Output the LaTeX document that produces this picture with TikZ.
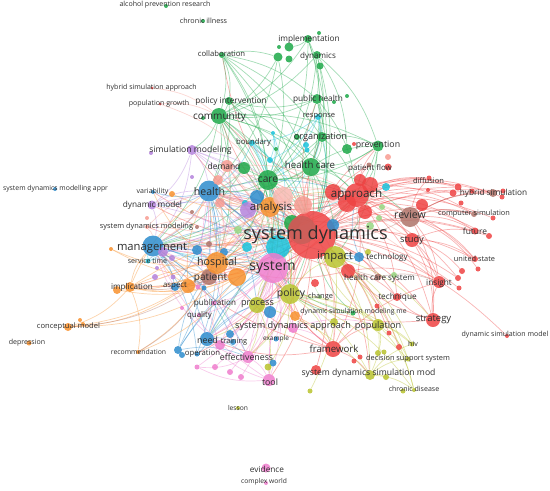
\documentclass[tikz,border=0pt]{standalone}
\usepackage{fontspec}
\setmainfont{Open Sans}
\usetikzlibrary{backgrounds}
\definecolor{vred}{RGB}{238,66,66}
\definecolor{vgreen}{RGB}{28,168,72}
\definecolor{vblue}{RGB}{45,140,205}
\definecolor{volive}{RGB}{185,195,45}
\definecolor{vpurple}{RGB}{180,130,220}
\definecolor{vcyan}{RGB}{25,195,220}
\definecolor{vorange}{RGB}{248,145,45}
\definecolor{vbrown}{RGB}{175,115,105}
\definecolor{vpink}{RGB}{238,125,205}
\definecolor{vsalmon}{RGB}{247,155,145}
\definecolor{vlgreen}{RGB}{150,215,130}
\definecolor{lbltext}{RGB}{45,45,45}
\tikzset{
	kw/.style={
		circle,
		draw=none,
		inner sep=0pt,
		fill opacity=.85,
		minimum size=#1*0.02cm
	},
	lbl/.style={
		inner sep=0pt,
		text=lbltext,
		font=\fontsize{#1}{#1}\selectfont
	},
	link/.style={
		every edge/.style={
			draw=#1,
			draw opacity=.4,
			line width=.4pt,
			bend left=15
		}
	},
}

\begin{document}
\begin{tikzpicture}[x=0.02cm,y=-0.02cm]
\useasboundingbox (0,0) rectangle (550,490);

% keywords, green cluster
\node[kw=4, fill=vgreen] (apr) at (166,6) {};
\node[kw=4, fill=vgreen] (chi) at (203,21) {};
\node[kw=6, fill=vgreen] (col) at (222,55) {};
\node[kw=8, fill=vgreen] (imp) at (308,39) {};
\node[kw=8, fill=vgreen] (dyn) at (317,55) {};
\node[kw=4, fill=vgreen] (g1) at (319,33) {};
\node[kw=9, fill=vgreen] (g2) at (289,47) {};
\node[kw=4, fill=vgreen] (g3) at (279,47) {};
\node[kw=9, fill=vgreen] (g4) at (278,57) {};
\node[kw=7, fill=vgreen] (g5) at (289,59) {};
\node[kw=7, fill=vgreen] (g6) at (320,66) {};
\node[kw=10, fill=vgreen] (pub) at (317,99) {};
\node[kw=4, fill=vgreen] (g7) at (334,102) {};
\node[kw=4, fill=vgreen] (g8) at (347,96) {};
\node[kw=8, fill=vgreen] (pin) at (229,101) {};
\node[kw=16, fill=vgreen] (com) at (219,116) {};
\node[kw=4, fill=vgreen] (g9) at (203,118) {};
\node[kw=10, fill=vgreen] (org) at (322,137) {};
\node[kw=6, fill=vgreen] (g10) at (297,137) {};
\node[kw=10, fill=vgreen] (g11) at (347,149) {};
\node[kw=11, fill=vgreen] (pre) at (378,146) {};
\node[kw=4, fill=vgreen] (g12) at (276,149) {};
\node[kw=12, fill=vgreen] (g13) at (244,168) {};
\node[kw=20, fill=vgreen] (car) at (268,180) {};
\node[kw=18, fill=vgreen] (hc) at (311,167) {};
\node[kw=16, fill=vgreen] (g14) at (292,223) {};
\node[kw=5, fill=vgreen] (dsmm) at (353,313) {};

% red cluster
\node[kw=48, fill=vred] (sd) at (312,235) {};
\node[kw=28, fill=vbrown!60!vred] (r30) at (302,230) {};
\node[kw=3, fill=vred] (hsa) at (152,88) {};
\node[kw=3, fill=vred] (pgr) at (160,104) {};
\node[kw=24, fill=vred] (ap) at (357,195) {};
\node[kw=14, fill=vred] (stu) at (412,240) {};
\node[kw=5, fill=vred] (dif) at (429,178) {};
\node[kw=7, fill=vred] (fut) at (475,231) {};
\node[kw=6, fill=vred] (ust) at (475,259) {};
\node[kw=12, fill=vred] (ins) at (439,282) {};
\node[kw=8, fill=vred] (tcq) at (397,297) {};
\node[kw=14, fill=vred] (str) at (433,320) {};
\node[kw=4, fill=vred] (dsm) at (507,336) {};
\node[kw=16, fill=vred] (fw) at (333,349) {};
\node[kw=16, fill=vred] (r1) at (333,192) {};
\node[kw=18, fill=vred] (r2) at (347,203) {};
\node[kw=16, fill=vred] (r3) at (370,185) {};
\node[kw=14, fill=vred] (r4) at (365,212) {};
\node[kw=12, fill=vred] (r5) at (360,180) {};
\node[kw=4, fill=vred] (r6) at (354,144) {};
\node[kw=7, fill=vred] (r7) at (388,167) {};
\node[kw=4, fill=vred] (r8) at (428,190) {};
\node[kw=7, fill=vred] (r9) at (458,187) {};
\node[kw=7, fill=vred] (r10) at (453,193) {};
\node[kw=5, fill=vred] (r11) at (461,203) {};
\node[kw=5, fill=vred] (r12) at (503,191) {};
\node[kw=5, fill=vred] (r13) at (502,197) {};
\node[kw=12, fill=vred] (r14) at (422,205) {};
\node[kw=5, fill=vred] (r15) at (493,218) {};
\node[kw=6, fill=vred] (r16) at (489,236) {};
\node[kw=5, fill=vred] (r17) at (478,269) {};
\node[kw=6, fill=vred] (r18) at (462,271) {};
\node[kw=6, fill=vred] (r19) at (458,278) {};
\node[kw=5, fill=vred] (r20) at (459,288) {};
\node[kw=14, fill=vred] (r21) at (348,271) {};
\node[kw=8, fill=vred] (r22) at (315,283) {};
\node[kw=5, fill=vred] (r23) at (377,306) {};
\node[kw=5, fill=vred] (r24) at (389,333) {};
\node[kw=6, fill=vred] (r25) at (399,347) {};
\node[kw=5, fill=vred] (r26) at (360,357) {};
\node[kw=5, fill=vred] (r27) at (354,361) {};
\node[kw=10, fill=vred] (r28) at (316,370) {};
\node[kw=5, fill=vred] (r29) at (472,191) {};

% cyan cluster
\node[kw=6, fill=vcyan] (res) at (318,117) {};
\node[kw=6, fill=vcyan] (bnd) at (252,143) {};
\node[kw=6, fill=vcyan] (c1) at (306,145) {};
\node[kw=5, fill=vcyan] (c2) at (307,150) {};
\node[kw=4, fill=vcyan] (c3) at (273,133) {};
\node[kw=6, fill=vcyan] (c4) at (270,160) {};
\node[kw=6, fill=vcyan] (c5) at (245,203) {};
\node[kw=10, fill=vcyan] (c6) at (247,247) {};
\node[kw=24, fill=vcyan] (c7) at (278,247) {};
\node[kw=5, fill=vcyan] (svt) at (148,261) {};
\node[kw=8, fill=vcyan] (c8) at (386,187) {};

% blue cluster
\node[kw=21, fill=vblue] (hea) at (209,191) {};
\node[kw=4, fill=vblue] (var) at (153,192) {};
\node[kw=4, fill=vblue] (sdma) at (55,189) {};
\node[kw=21, fill=vblue] (mgt) at (153,246) {};
\node[kw=8, fill=vblue] (asp) at (175,287) {};
\node[kw=14, fill=vblue] (need) at (207,339) {};
\node[kw=6, fill=vblue] (trn) at (233,342) {};
\node[kw=5, fill=vblue] (ope) at (197,354) {};
\node[kw=5, fill=vblue] (exa) at (276,339) {};
\node[kw=10, fill=vblue] (tec) at (359,257) {};
\node[kw=14, fill=vblue] (b1) at (257,197) {};
\node[kw=12, fill=vblue] (b2) at (333,225) {};
\node[kw=10, fill=vblue] (b3) at (197,250) {};
\node[kw=8, fill=vblue] (b4) at (224,252) {};
\node[kw=12, fill=vblue] (b5) at (270,312) {};
\node[kw=5, fill=vblue] (b6) at (204,288) {};
\node[kw=8, fill=vblue] (b7) at (230,334) {};
\node[kw=8, fill=vblue] (b8) at (178,350) {};
\node[kw=6, fill=vblue] (b9) at (182,355) {};
\node[kw=7, fill=vblue] (b10) at (273,363) {};

% brown cluster
\node[kw=5, fill=vbrown] (pfl) at (369,165) {};
\node[kw=20, fill=vbrown] (rv) at (410,217) {};
\node[kw=8, fill=vbrown] (hys) at (493,193) {};
\node[kw=6, fill=vbrown] (cps) at (474,214) {};
\node[kw=7, fill=vbrown] (hcs) at (378,277) {};
\node[kw=16, fill=vbrown] (pat) at (209,277) {};
\node[kw=4, fill=vbrown] (n1) at (192,212) {};
\node[kw=4, fill=vbrown] (n2) at (197,227) {};
\node[kw=6, fill=vbrown] (n3) at (209,244) {};

% olive cluster
\node[kw=22, fill=volive] (ipc) at (335,257) {};
\node[kw=20, fill=volive] (pol) at (290,294) {};
\node[kw=16, fill=volive] (prc) at (257,305) {};
\node[kw=12, fill=volive] (pop) at (378,325) {};
\node[kw=5, fill=volive] (hiv) at (412,344) {};
\node[kw=5, fill=volive] (dss) at (408,359) {};
\node[kw=10, fill=volive] (sdsm) at (370,375) {};
\node[kw=4, fill=volive] (chd) at (414,390) {};
\node[kw=4, fill=volive] (les) at (238,408) {};
\node[kw=6, fill=volive] (o1) at (368,252) {};
\node[kw=8, fill=volive] (o2) at (334,322) {};
\node[kw=6, fill=volive] (o3) at (378,353) {};
\node[kw=5, fill=volive] (o4) at (384,352) {};
\node[kw=6, fill=volive] (o5) at (386,377) {};
\node[kw=7, fill=volive] (o6) at (268,367) {};
\node[kw=5, fill=volive] (o7) at (310,391) {};
\node[kw=5, fill=volive] (o8) at (403,391) {};

% purple cluster
\node[kw=10, fill=vpurple] (sim) at (192,150) {};
\node[kw=9, fill=vpurple] (dmo) at (152,205) {};
\node[kw=16, fill=vpurple] (p1) at (248,210) {};
\node[kw=4, fill=vpurple] (p2) at (151,153) {};
\node[kw=4, fill=vpurple] (p3) at (192,177) {};
\node[kw=10, fill=vpurple] (p4) at (163,252) {};
\node[kw=6, fill=vpurple] (p5) at (172,258) {};
\node[kw=4, fill=vpurple] (p6) at (157,268) {};
\node[kw=6, fill=vpurple] (p7) at (155,277) {};
\node[kw=5, fill=vpurple] (p8) at (173,277) {};

% orange cluster
\node[kw=20, fill=vorange] (ana) at (270,207) {};
\node[kw=22, fill=vorange] (hos) at (217,263) {};
\node[kw=10, fill=vorange] (imc) at (130,287) {};
\node[kw=8, fill=vorange] (cpm) at (68,327) {};
\node[kw=5, fill=vorange] (dep) at (29,343) {};
\node[kw=4, fill=vorange] (rec) at (138,352) {};
\node[kw=6, fill=vorange] (a1) at (172,194) {};
\node[kw=4, fill=vorange] (a2) at (111,249) {};
\node[kw=18, fill=vorange] (a3) at (237,277) {};
\node[kw=8, fill=vorange] (a4) at (117,290) {};
\node[kw=14, fill=vorange] (a5) at (188,286) {};
\node[kw=10, fill=vorange] (a6) at (295,316) {};
\node[kw=4, fill=vorange] (a7) at (80,320) {};
\node[kw=4, fill=vorange] (a8) at (83,324) {};

% pink cluster
\node[kw=30, fill=vpink] (sys) at (273,268) {};
\node[kw=10, fill=vpink] (sda) at (293,328) {};
\node[kw=5, fill=vpink] (pbl) at (214,303) {};
\node[kw=4, fill=vpink] (qua) at (199,315) {};
\node[kw=12, fill=vpink] (eff) at (248,357) {};
\node[kw=12, fill=vpink] (tool) at (269,380) {};
\node[kw=9, fill=vpink] (evi) at (266,468) {};
\node[kw=4, fill=vpink] (cxw) at (266,483) {};
\node[kw=4, fill=vpink] (k1) at (182,308) {};
\node[kw=5, fill=vpink] (k2) at (198,287) {};
\node[kw=10, fill=vpink] (k3) at (220,345) {};
\node[kw=5, fill=vpink] (k4) at (197,367) {};
\node[kw=6, fill=vpink] (k5) at (215,367) {};
\node[kw=6, fill=vpink] (k6) at (230,372) {};
\node[kw=6, fill=vpink] (k7) at (241,377) {};

% salmon and light green
\node[kw=12, fill=vsalmon] (dem) at (227,166) {};
\node[kw=4, fill=vsalmon] (sdm) at (147,227) {};
\node[kw=20, fill=vsalmon!70] (s1) at (283,197) {};
\node[kw=18, fill=vsalmon] (s2) at (303,205) {};
\node[kw=10, fill=vsalmon] (s3) at (218,180) {};
\node[kw=10, fill=vsalmon] (s4) at (220,203) {};
\node[kw=4, fill=vsalmon] (s5) at (147,218) {};
\node[kw=6, fill=vsalmon] (s6) at (388,157) {};
\node[kw=4, fill=vlgreen] (chg) at (320,297) {};
\node[kw=8, fill=vlgreen] (l1) at (238,230) {};
\node[kw=6, fill=vlgreen] (l2) at (382,207) {};
\node[kw=6, fill=vlgreen] (l3) at (379,218) {};
\node[kw=8, fill=vlgreen] (l4) at (370,226) {};
\node[kw=6, fill=vlgreen] (l5) at (394,275) {};

% links
\begin{scope}[on background layer]
\path[link=vred] (sd) edge (ap) edge (rv) edge (stu) edge (dif) edge (hys) edge (cps) edge (fut) edge (ust) edge (ins) edge (tcq) edge (str) edge (fw) edge (sdsm) edge (pop) edge (hcs) edge (pfl) edge (pre) edge (dsm) edge (r9) edge (r12) edge (r16) edge (r19) edge (r20) edge (r24) edge (r25) edge (r28);
\path[link=vred] (sd) edge (hea) edge (mgt) edge (hos) edge (car) edge (hc) edge (com) edge (dem) edge (sim) edge (dmo) edge (sdm) edge (imc) edge (need) edge (ope) edge (tool) edge (eff) edge (pol) edge (prc) edge (col) edge (pub) edge (org) edge (pat) edge (asp) edge (var);
\path[link=vred] (ap) edge (rv) edge (dif) edge (r9) edge (hys) edge (cps) edge (fut) edge (stu) edge (ins) edge (ust) edge (str) edge (pfl) edge (pre) edge (tcq) edge (fw) edge (hea) edge (mgt) edge (hos) edge (sys) edge (car) edge (ana) edge (com);
\path[link=vred] (rv) edge (hys) edge (cps) edge (fut) edge (ust) edge (ins) edge (dif) edge (r12) edge (r17) edge (str);
\path[link=vred] (stu) edge (ins) edge (str) edge (ust) edge (r18) edge (fut);
\path[link=vred] (r2) edge (dif) edge (r10) edge (r15) edge (r16) edge (r19) edge (hea) edge (sys) edge (mgt);
\path[link=vred] (r3) edge (r9) edge (r13) edge (cps) edge (hea) edge (pat);
\path[link=vred] (fw) edge (sdsm) edge (pol) edge (sys) edge (pop) edge (need) edge (hos) edge (mgt) edge (ins);
\path[link=vred] (str) edge (ins) edge (tcq) edge (pol) edge (ipc);
\path[link=vred] (r21) edge (ins) edge (tcq) edge (hea) edge (hos);
\path[link=vgreen] (col) edge (com) edge (car) edge (hc) edge (org) edge (pub) edge (pin) edge (sd) edge (g4) edge (ana);
\path[link=vgreen] (dyn) edge (pre) edge (hc) edge (car) edge (sd) edge (com) edge (g11);
\path[link=vgreen] (imp) edge (com) edge (car) edge (hc) edge (sd) edge (pub) edge (g2);
\path[link=vgreen] (g4) edge (com) edge (car) edge (hea);
\path[link=vgreen] (pub) edge (hc) edge (car) edge (com) edge (sd) edge (org) edge (ap) edge (pin);
\path[link=vgreen] (pin) edge (com) edge (car) edge (sd) edge (hea) edge (hc);
\path[link=vgreen] (com) edge (car) edge (hc) edge (hea) edge (sd) edge (ana) edge (sys) edge (dem) edge (mgt) edge (hos) edge (pol) edge (ap) edge (org) edge (pre) edge (sim);
\path[link=vgreen] (hc) edge (sd) edge (ap) edge (car) edge (pre) edge (ipc) edge (pol) edge (rv) edge (sys) edge (hea) edge (mgt);
\path[link=vgreen] (car) edge (sd) edge (hea) edge (ana) edge (sys) edge (hos) edge (pol) edge (ap) edge (mgt) edge (pat) edge (need) edge (prc);
\path[link=vgreen] (org) edge (sd) edge (car) edge (hc) edge (ap) edge (pre) edge (hea);
\path[link=vgreen] (pre) edge (sd) edge (ap) edge (hc) edge (car) edge (ipc);
\path[link=vgreen] (g13) edge (hea) edge (sd) edge (mgt) edge (sys);
\path[link=vgreen] (dsmm) edge (sd) edge (pol) edge (sys);
\path[link=vcyan] (res) edge (hc) edge (car) edge (sd) edge (bnd) edge (c4);
\path[link=vcyan] (bnd) edge (sd) edge (car) edge (hea) edge (sys) edge (c7) edge (c4);
\path[link=vcyan] (c3) edge (c4) edge (c7) edge (car);
\path[link=vcyan] (c7) edge (hea) edge (mgt) edge (hos) edge (sys) edge (ap) edge (hc);
\path[link=vcyan] (svt) edge (mgt) edge (hos) edge (sd);
\path[link=vblue] (hea) edge (mgt) edge (need) edge (ope) edge (sd) edge (sys) edge (ana) edge (hos) edge (pat) edge (asp) edge (var) edge (dmo) edge (b8) edge (prc) edge (pol) edge (ap);
\path[link=vblue] (mgt) edge (need) edge (ope) edge (pat) edge (hos) edge (sys) edge (sd) edge (pol) edge (prc) edge (svt) edge (asp) edge (b7) edge (eff);
\path[link=vblue] (need) edge (sys) edge (sd) edge (eff) edge (ope) edge (trn) edge (pol) edge (prc);
\path[link=vblue] (b8) edge (sys) edge (sd) edge (eff) edge (hos);
\path[link=vblue] (tec) edge (sd) edge (ap) edge (ipc) edge (hea);
\path[link=vorange] (hos) edge (imc) edge (cpm) edge (rec) edge (var) edge (mgt) edge (pat) edge (asp) edge (ana) edge (sd) edge (sys) edge (pol) edge (a4) edge (a2);
\path[link=vorange] (ana) edge (hea) edge (mgt) edge (hos) edge (sd) edge (sys) edge (pol) edge (imc) edge (a1) edge (ap) edge (prc);
\path[link=vorange] (a3) edge (imc) edge (cpm) edge (rec) edge (mgt) edge (sd) edge (a4) edge (a2) edge (hea);
\path[link=vorange] (a5) edge (imc) edge (cpm) edge (sd) edge (mgt) edge (hea);
\path[link=vorange] (imc) edge (mgt) edge (hea) edge (sd) edge (sys) edge (cpm) edge (rec);
\path[link=vorange] (a6) edge (sd) edge (sys) edge (pol) edge (fw);
\path[link=vpurple] (sim) edge (sd) edge (car) edge (hea) edge (ana) edge (sys) edge (dmo) edge (mgt) edge (p1);
\path[link=vpurple] (dmo) edge (sd) edge (mgt) edge (hea) edge (sys) edge (ana);
\path[link=vpurple] (p1) edge (sd) edge (mgt) edge (hos) edge (sys) edge (p4);
\path[link=vpurple] (p4) edge (sys) edge (sd) edge (hos);
\path[link=vpink] (sys) edge (tool) edge (eff) edge (need) edge (sda) edge (exa) edge (qua) edge (pbl) edge (sd) edge (pol) edge (prc) edge (fw) edge (k3) edge (k4) edge (k5) edge (k6) edge (k7) edge (mgt) edge (hea);
\path[link=vpink] (eff) edge (tool) edge (sd) edge (need) edge (k4) edge (hea);
\path[link=vpink] (tool) edge (sd) edge (pol) edge (need) edge (k4) edge (mgt);
\path[link=vpink] (sda) edge (sd) edge (pol) edge (pop) edge (fw);
\path[link=vpink] (k3) edge (mgt) edge (hea) edge (sd);
\path[link=volive] (pol) edge (pop) edge (sdsm) edge (hiv) edge (dss) edge (chd) edge (prc) edge (sd) edge (ipc) edge (fw) edge (sys) edge (eff) edge (o6);
\path[link=volive] (pop) edge (hiv) edge (dss) edge (chd) edge (sdsm) edge (sd) edge (ipc) edge (o3);
\path[link=volive] (ipc) edge (pop) edge (sdsm) edge (hiv) edge (dss) edge (str) edge (sd) edge (chd) edge (o7);
\path[link=volive] (prc) edge (sd) edge (sys) edge (need) edge (eff) edge (tool) edge (sdsm);
\path[link=volive] (sdsm) edge (chd) edge (dss) edge (hiv) edge (o5);
\path[link=vbrown] (rv) edge (sd) edge (hea) edge (hys) edge (cps);
\path[link=vbrown] (pat) edge (imc) edge (cpm) edge (mgt) edge (sd) edge (asp) edge (rec) edge (sys);
\path[link=vbrown] (hcs) edge (sd) edge (ap) edge (ins);
\path[link=vsalmon] (dem) edge (sd) edge (car) edge (hea) edge (ana) edge (hos) edge (sys) edge (ap) edge (mgt);
\path[link=vsalmon] (sdm) edge (sd) edge (hea) edge (mgt) edge (sys);
\path[link=vsalmon] (s1) edge (hea) edge (mgt) edge (hos) edge (ap) edge (pol) edge (ipc) edge (rv) edge (stu) edge (sys) edge (imc);
\path[link=vsalmon] (s2) edge (ap) edge (rv) edge (hea) edge (mgt) edge (pat) edge (fw) edge (ins);
\path[link=vsalmon] (s3) edge (sd) edge (ap) edge (mgt) edge (sys) edge (pol);
\path[link=vsalmon] (s4) edge (sd) edge (ap) edge (hos) edge (ipc) edge (need);
\path[link=vsalmon] (pgr) edge (com) edge (car);
\path[link=vsalmon] (hsa) edge (com);
\path[link=vlgreen] (l1) edge (hea) edge (sd) edge (mgt);
\path[link=vlgreen] (chg) edge (sd) edge (pol);
\end{scope}

% labels
\node[lbl=4] (tapr) at (165,5) {alcohol prevention research};
\node[lbl=4.1] (tchi) at (203.5,21) {chronic illness};
\node[lbl=4.4] (tcol) at (221.5,54) {collaboration};
\node[lbl=4.7] (timp) at (309,39) {implementation};
\node[lbl=4.6] (tdyn) at (318,56) {dynamics};
\node[lbl=4] (thsa) at (151.5,88) {hybrid simulation approach};
\node[lbl=4] (tpgr) at (159,104) {population growth};
\node[lbl=4.7] (tpin) at (231,101) {policy intervention};
\node[lbl=4.7] (tpub) at (318,99) {public health};
\node[lbl=5.7] (tcom) at (219.5,117) {community};
\node[lbl=4.3] (tres) at (319,116) {response};
\node[lbl=5.2] (torg) at (320.5,137) {organization};
\node[lbl=5] (tpre) at (378,145) {prevention};
\node[lbl=4.4] (tbnd) at (253.5,142) {boundary};
\node[lbl=4.9] (tsim) at (190.5,150) {simulation modeling};
\node[lbl=4.8] (tdem) at (224,166) {demand};
\node[lbl=5.8] (tcar) at (268,180) {care};
\node[lbl=5.5] (thc) at (310,165) {health care};
\node[lbl=4.5] (tpfl) at (370,168) {patient flow};
\node[lbl=6] (thea) at (209.5,192) {health};
\node[lbl=4] (tvar) at (152.5,192) {variability};
\node[lbl=4.7] (tdmo) at (152.5,205) {dynamic model};
\node[lbl=3.9] (tsdma) at (55.5,189) {system dynamics modelling appr};
\node[lbl=4.2] (tsdm) at (146.5,227) {system dynamics modeling};
\node[lbl=6.5] (tana) at (271,208) {analysis};
\node[lbl=10.3] (tsd) at (315.5,235) {system dynamics};
\node[lbl=8] (tsys) at (272.5,268) {system};
\node[lbl=6.4] (tipc) at (335,257) {impact};
\node[lbl=4.6] (ttec) at (387,257) {technology};
\node[lbl=6.6] (tap) at (356.5,194) {approach};
\node[lbl=6] (trv) at (410,215) {review};
\node[lbl=5.3] (tstu) at (412,240) {study};
\node[lbl=4.3] (tdif) at (428.5,181) {diffusion};
\node[lbl=4.7] (thys) at (493.5,193) {hybrid simulation};
\node[lbl=4.2] (tcps) at (474,214) {computer simulation};
\node[lbl=4.8] (tfut) at (475,231) {future};
\node[lbl=4.2] (tust) at (474.5,259) {united state};
\node[lbl=4.7] (tins) at (439,283) {insight};
\node[lbl=4.6] (thcs) at (379.5,278) {health care system};
\node[lbl=4.7] (ttcq) at (397.5,297) {technique};
\node[lbl=5.4] (tstr) at (433.5,320) {strategy};
\node[lbl=4] (tdsm) at (505,335) {dynamic simulation model};
\node[lbl=5.9] (tpol) at (291,294) {policy};
\node[lbl=4.2] (tchg) at (320.5,297) {change};
\node[lbl=5.2] (tprc) at (257.5,304) {process};
\node[lbl=3.9] (tdsmm) at (353.5,312) {dynamic simulation modeling me};
\node[lbl=5.2] (tsda) at (293,326) {system dynamics approach};
\node[lbl=5.2] (tpop) at (378,326) {population};
\node[lbl=5.5] (tfw) at (334,349) {framework};
\node[lbl=4] (thiv) at (413,344) {hiv};
\node[lbl=4.2] (tdss) at (408,359) {decision support system};
\node[lbl=4.9] (tsdsm) at (368.5,373) {system dynamics simulation mod};
\node[lbl=4] (tchd) at (414,389) {chronic disease};
\node[lbl=6.4] (tmgt) at (152,248) {management};
\node[lbl=4] (tsvt) at (147.5,261) {service time};
\node[lbl=6.1] (thos) at (217,263) {hospital};
\node[lbl=5.7] (tpat) at (210.5,278) {patient};
\node[lbl=4.6] (timc) at (132,287) {implication};
\node[lbl=4.5] (tasp) at (175,286) {aspect};
\node[lbl=4.6] (tpbl) at (215,303) {publication};
\node[lbl=4.5] (tqua) at (199.5,315) {quality};
\node[lbl=4.3] (tcpm) at (68.5,327) {conceptual model};
\node[lbl=4] (tdep) at (27,343) {depression};
\node[lbl=3.9] (trec) at (138.5,352) {recommendation};
\node[lbl=5] (tneed) at (207.5,340) {need};
\node[lbl=4.2] (ttrn) at (234,342) {training};
\node[lbl=4.4] (tope) at (202.5,354) {operation};
\node[lbl=5] (teff) at (246.5,357) {effectiveness};
\node[lbl=3.7] (texa) at (276,339) {example};
\node[lbl=5] (ttool) at (270,382) {tool};
\node[lbl=3.8] (tles) at (238,408) {lesson};
\node[lbl=4.7] (tevi) at (267,469) {evidence};
\node[lbl=3.8] (tcxw) at (264,482) {complex world};
\end{tikzpicture}
\end{document}
